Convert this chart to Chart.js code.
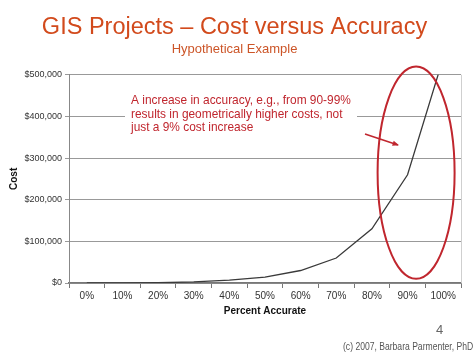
<!DOCTYPE html>
<html>
<head>
<meta charset="utf-8">
<script src="https://cdn.jsdelivr.net/npm/chart.js@4/dist/chart.umd.min.js"></script>
<style>
  html, body { margin: 0; padding: 0; background: #fff; }
  #wrap { position: relative; width: 474px; height: 355px; overflow: hidden; }
  canvas { display: block; }
  .note { position: absolute; font-family: Arial, "Liberation Sans", sans-serif; }
  #page-no { left: 436px; top: 322px; font-size: 13px; color: #666; }
  #credit { left: 343px; top: 340px; color: #555; white-space: nowrap; font-size: 11px;
            transform: scaleX(0.78); transform-origin: left top; }
</style>
</head>
<body>
<div id="wrap">
  <canvas id="costChart" width="474" height="355"></canvas>
  <div class="note" id="page-no">4</div>
  <div class="note" id="credit">(c) 2007, Barbara Parmenter, PhD</div>
</div>
<script>
// categories and values
const accuracyLabels = ['0%', '10%', '20%', '30%', '40%', '50%', '60%', '70%', '80%', '90%', '100%'];
const costValues = [0, 100, 600, 2500, 7000, 14000, 30000, 60000, 130000, 260000, 540000];
const costTicks = [0, 100000, 200000, 300000, 400000, 500000];
const noteLines = [
  'A increase in accuracy, e.g., from 90-99%',
  'results in geometrically higher costs, not',
  'just a 9% cost increase'
];

const RED = '#c0262e';

// Draws the callout text, arrow and the ellipse around the top end
const calloutPlugin = {
  id: 'callout',
  afterDraw(chart) {
    const { ctx, chartArea, scales } = chart;
    const x = scales.x, y = scales.y;

    // right border of the plot area
    ctx.save();
    ctx.strokeStyle = '#cfcfcf';
    ctx.lineWidth = 1;
    ctx.beginPath();
    ctx.moveTo(chartArea.right + 0.5, chartArea.top);
    ctx.lineTo(chartArea.right + 0.5, chartArea.bottom);
    ctx.stroke();

    // text box (white background cuts the gridline)
    ctx.fillStyle = '#fff';
    ctx.fillRect(125, 92, 232, 43);
    ctx.font = '11.9px Arial, "Liberation Sans", sans-serif';
    ctx.fillStyle = RED;
    ctx.textBaseline = 'middle';
    noteLines.forEach((line, i) => ctx.fillText(line, 131, 101 + i * 13.6));

    // arrow
    ctx.strokeStyle = RED;
    ctx.lineWidth = 1.5;
    const x1 = 365, y1 = 134, x2 = 398, y2 = 145;
    ctx.beginPath();
    ctx.moveTo(x1, y1);
    ctx.lineTo(x2, y2);
    ctx.stroke();
    const ang = Math.atan2(y2 - y1, x2 - x1);
    ctx.fillStyle = RED;
    ctx.beginPath();
    ctx.moveTo(x2 + 1, y2 + 0.3);
    ctx.lineTo(x2 - 6 * Math.cos(ang - 0.45), y2 - 6 * Math.sin(ang - 0.45));
    ctx.lineTo(x2 - 6 * Math.cos(ang + 0.45), y2 - 6 * Math.sin(ang + 0.45));
    ctx.closePath();
    ctx.fill();

    // ellipse
    const cx = x.getPixelForValue(9.24);
    const cy = y.getPixelForValue(265000);
    const ry = cy - y.getPixelForValue(520000);
    ctx.lineWidth = 2;
    ctx.beginPath();
    ctx.ellipse(cx, cy, 38.5, ry, 0, 0, Math.PI * 2);
    ctx.stroke();
    ctx.restore();
  }
};

const ctx = document.getElementById('costChart').getContext('2d');
new Chart(ctx, {
  type: 'line',
  data: {
    labels: accuracyLabels,
    datasets: [{
      label: 'Cost',
      data: costValues,
      borderColor: '#3a3a3a',
      borderWidth: 1.3,
      pointRadius: 0,
      tension: 0
    }]
  },
  options: {
    responsive: false,
    animation: false,
    layout: { padding: { top: 13, left: 8, right: 13, bottom: 38 } },
    plugins: {
      legend: { display: false },
      tooltip: { enabled: false },
      title: {
        display: true,
        text: 'GIS Projects \u2013 Cost versus Accuracy',
        color: '#d24a1c',
        font: { family: 'Arial', size: 23.5, weight: 'normal' },
        padding: { top: 0, bottom: 0 }
      },
      subtitle: {
        display: true,
        text: 'Hypothetical Example',
        color: '#cc5528',
        font: { family: 'Arial', size: 13, weight: 'normal' },
        padding: { top: 0, bottom: 18 }
      }
    },
    scales: {
      x: {
        offset: true,
        grid: { display: true, drawOnChartArea: false, offset: true, tickLength: 5, color: '#777' },
        border: { color: '#777', width: 1.5 },
        ticks: { color: '#333', font: { family: 'Arial', size: 10 }, padding: 2, maxRotation: 0 },
        title: {
          display: true, text: 'Percent Accurate', color: '#111',
          font: { family: 'Arial', size: 10, weight: 'bold' }, padding: { top: 4, bottom: 0 }
        },
        afterFit: s => { s.height = 34; }
      },
      y: {
        min: 0,
        max: 500000,
        afterBuildTicks: s => { s.ticks = costTicks.map(v => ({ value: v })); },
        grid: { color: '#999', tickLength: 4 },
        border: { color: '#888' },
        ticks: {
          color: '#333', font: { family: 'Arial', size: 9 }, padding: 3,
          callback: v => '$' + v.toLocaleString('en-US')
        },
        title: {
          display: true, text: 'Cost', color: '#111',
          font: { family: 'Arial', size: 10, weight: 'bold' }, padding: 0
        },
        afterFit: s => { s.width = 61; }
      }
    }
  },
  plugins: [calloutPlugin]
});
</script>
</body>
</html>
